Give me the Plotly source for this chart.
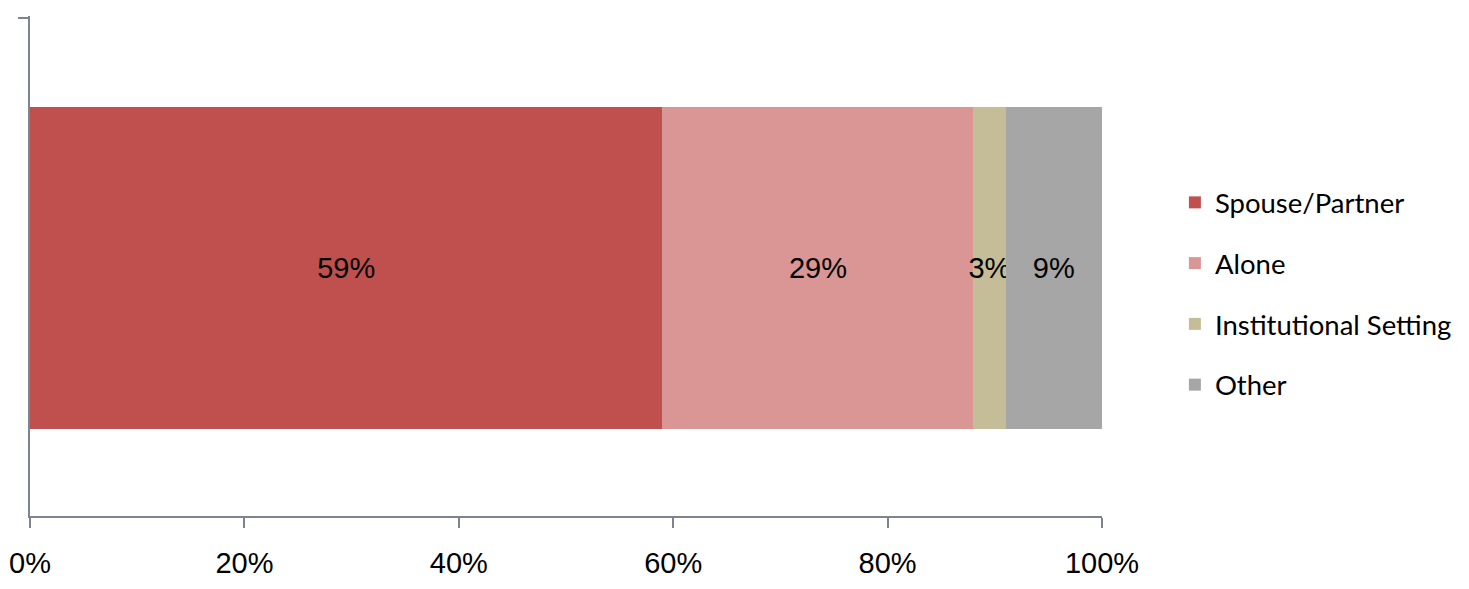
import plotly.graph_objects as go

categories = ["Living arrangement"]
series_names = ["Spouse/Partner", "Alone", "Institutional Setting", "Other"]
series_values = [59, 29, 3, 9]
series_colors = ["#C0504D", "#D99694", "#C4BD97", "#A6A6A6"]
tick_values = [0, 20, 40, 60, 80, 100]
tick_labels = ["0%", "20%", "40%", "60%", "80%", "100%"]

axis_color = "#7A8590"

fig = go.Figure()
for i, (name, val, col) in enumerate(zip(series_names, series_values, series_colors)):
    fig.add_trace(go.Bar(
        y=categories, x=[val], name=name, orientation="h",
        marker=dict(color=col, line=dict(width=0)),
        text=[f"{val}%"], textposition="inside", insidetextanchor="middle",
        constraintext="none", textangle=0,
        textfont=dict(family="Liberation Sans, Arial", size=29, color="black"),
        legendgroup=name,
    ))

fig.update_layout(
    barmode="stack", bargap=0.356,
    width=1462, height=582,
    margin=dict(l=22, r=368, t=8, b=74, autoexpand=False),
    plot_bgcolor="white", paper_bgcolor="white",
    showlegend=True,
    legend=dict(
        x=1.068, xanchor="left", y=0.445, yanchor="middle",
        traceorder="grouped", tracegroupgap=22,
        font=dict(family="Lato, Open Sans", size=27.5, color="black"),
    ),
    xaxis=dict(
        range=[0, 100], tickvals=tick_values, ticktext=tick_labels,
        ticks="outside", ticklen=10, tickcolor=axis_color, tickwidth=2,
        ticklabelstandoff=10,
        showline=True, linecolor=axis_color, linewidth=2,
        showgrid=False, zeroline=False, automargin=False,
        tickfont=dict(family="Liberation Sans, Arial", size=29, color="black"),
    ),
    yaxis=dict(
        range=[-0.497, 0.503],
        showticklabels=False, tickson="boundaries",
        ticks="outside", ticklen=10, tickcolor=axis_color, tickwidth=2,
        showline=True, linecolor=axis_color, linewidth=2,
        showgrid=False, zeroline=False, automargin=False,
    ),
)

fig.write_html("out.html")
